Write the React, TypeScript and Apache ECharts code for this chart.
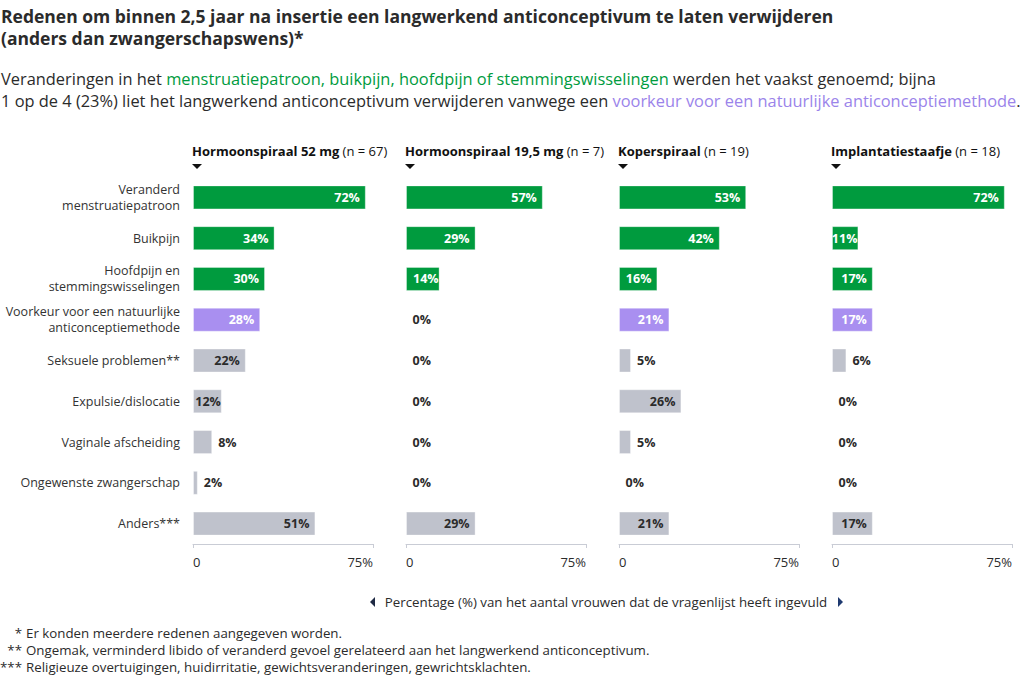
import React, { useEffect, useRef } from "react";
import * as echarts from "echarts";

const categories = [
  "Veranderd\nmenstruatiepatroon",
  "Buikpijn",
  "Hoofdpijn en\nstemmingswisselingen",
  "Voorkeur voor een natuurlijke\nanticonceptiemethode",
  "Seksuele problemen**",
  "Expulsie/dislocatie",
  "Vaginale afscheiding",
  "Ongewenste zwangerschap",
  "Anders***",
];
const categoryGroup = ["green", "green", "green", "purple", "gray", "gray", "gray", "gray", "gray"];

const panelTitles = ["Hormoonspiraal 52 mg", "Hormoonspiraal 19,5 mg", "Koperspiraal", "Implantatiestaafje"];
const panelN = ["(n = 67)", "(n = 7)", "(n = 19)", "(n = 18)"];

const hormoon52 = [72, 34, 30, 28, 22, 12, 8, 2, 51];
const hormoon195 = [57, 29, 14, 0, 0, 0, 0, 0, 29];
const koper = [53, 42, 16, 21, 5, 26, 5, 0, 21];
const implantaat = [72, 11, 17, 17, 6, 0, 0, 0, 17];
const panelValues = [hormoon52, hormoon195, koper, implantaat];

const axisMax = 75;

const COLORS: Record<string, string> = { green: "#009b3e", purple: "#a98ff0", gray: "#bfc2cc" };
const FONT = "'Open Sans', Roboto, sans-serif";
const TEXT = "#2b2b2b";

export default function App() {
  const ref = useRef<HTMLDivElement>(null);
  useEffect(() => {
    if (!ref.current) return;
    const chart = echarts.init(ref.current, undefined, { renderer: "svg" });
    const panelLeft = [193, 406, 619, 832];
    const panelWidth = 180;
    const gridTop = 177;
    const gridHeight = 367;

    const grids = panelLeft.map((l) => ({ left: l, top: gridTop, width: panelWidth, height: gridHeight, containLabel: false }));
    const xAxes = panelLeft.map((_, i) => ({
      type: "value",
      gridIndex: i,
      min: 0,
      max: axisMax,
      interval: axisMax,
      position: "bottom",
      splitLine: { show: false },
      axisLine: { show: true, lineStyle: { color: "#c9ccd5", width: 1 } },
      axisTick: { show: true, length: 4, lineStyle: { color: "#c9ccd5" } },
      axisLabel: {
        margin: 11,
        color: TEXT,
        fontFamily: FONT,
        fontSize: 13,
        alignMinLabel: "left",
        alignMaxLabel: "right",
        formatter: (v: number) => (v === axisMax ? axisMax + "%" : String(v)),
      },
    }));
    const yAxes = panelLeft.map((_, i) => ({
      type: "category",
      gridIndex: i,
      inverse: true,
      data: categories,
      axisLine: { show: false },
      axisTick: { show: false },
      axisLabel: {
        show: i === 0,
        margin: 13,
        color: "#333",
        fontFamily: FONT,
        fontSize: 12.5,
        lineHeight: 16,
        align: "right",
      },
    }));
    const series = panelValues.map((vals, i) => ({
      type: "bar",
      xAxisIndex: i,
      yAxisIndex: i,
      barWidth: 24,
      data: vals.map((v, k) => {
        const g = categoryGroup[k];
        const inside = v >= 10;
        return {
          value: v,
          itemStyle: { color: COLORS[g], borderColor: "rgba(255,255,255,0.35)", borderWidth: 1 },
          label: {
            show: true,
            position: inside ? "insideRight" : "right",
            distance: inside ? (v < 15 ? 1 : 6) : 6,
            overflow: "none",
            color: inside && g !== "gray" ? "#ffffff" : TEXT,
            fontWeight: "bold",
            fontFamily: FONT,
            fontSize: 12.5,
            formatter: "{c}%",
          },
        };
      }),
    }));

    const graphic: any[] = [
      {
        type: "text",
        left: 1,
        top: 5,
        style: {
          text: "Redenen om binnen 2,5 jaar na insertie een langwerkend anticonceptivum te laten verwijderen\n(anders dan zwangerschapswens)*",
          font: `bold 17.5px ${FONT}`,
          fill: TEXT,
          lineHeight: 22,
        },
      },
      {
        type: "text",
        left: 1,
        top: 67,
        style: {
          text:
            "Veranderingen in het {g|menstruatiepatroon, buikpijn, hoofdpijn of stemmingswisselingen} werden het vaakst genoemd; bijna\n1 op de 4 (23%) liet het langwerkend anticonceptivum verwijderen vanwege een {p|voorkeur voor een natuurlijke anticonceptiemethode}.",
          font: `16.4px ${FONT}`,
          fill: TEXT,
          lineHeight: 22,
          rich: {
            g: { fill: "#009b3e", font: `16.4px ${FONT}`, lineHeight: 22 },
            p: { fill: "#9b84ea", font: `16.4px ${FONT}`, lineHeight: 22 },
          },
        },
      },
    ];
    panelLeft.forEach((l, i) => {
      graphic.push({
        type: "text",
        x: l - 1,
        y: 144,
        style: {
          text: `{b|${panelTitles[i]}} {n|${panelN[i]}}`,
          fill: "#111",
          rich: {
            b: { font: `bold 13px ${FONT}`, fill: "#111" },
            n: { font: `13px ${FONT}`, fill: "#111" },
          },
        },
      });
      graphic.push({
        type: "polygon",
        shape: { points: [[l - 1, 164], [l + 9, 164], [l + 4, 169]] },
        style: { fill: "#111" },
      });
    });
    graphic.push(
      {
        type: "text",
        x: 606,
        y: 602,
        style: {
          text: "Percentage (%) van het aantal vrouwen dat de vragenlijst heeft ingevuld",
          font: `13.3px ${FONT}`,
          fill: TEXT,
          align: "center",
          verticalAlign: "middle",
        },
      },
      { type: "polygon", shape: { points: [[375, 597], [375, 607], [370, 602]] }, style: { fill: "#1f2a44" } },
      { type: "polygon", shape: { points: [[838, 597], [838, 607], [843, 602]] }, style: { fill: "#1f3a70" } }
    );
    const notes = [
      ["*", "Er konden meerdere redenen aangegeven worden."],
      ["**", "Ongemak, verminderd libido of veranderd gevoel gerelateerd aan het langwerkend anticonceptivum."],
      ["***", "Religieuze overtuigingen, huidirritatie, gewichtsveranderingen, gewrichtsklachten."],
    ];
    notes.forEach((n, i) => {
      const y = 633 + i * 17;
      graphic.push(
        { type: "text", x: 22, y, style: { text: n[0], font: `13.3px ${FONT}`, fill: TEXT, align: "right", verticalAlign: "middle" } },
        { type: "text", x: 26, y, style: { text: n[1], font: `13.3px ${FONT}`, fill: TEXT, align: "left", verticalAlign: "middle" } }
      );
    });

    chart.setOption({
      animation: false,
      backgroundColor: "#ffffff",
      textStyle: { fontFamily: FONT },
      grid: grids,
      xAxis: xAxes,
      yAxis: yAxes,
      series,
      graphic,
    } as any);
    return () => chart.dispose();
  }, []);
  return <div ref={ref} style={{ position: "fixed", left: 0, top: 0, width: 1024, height: 691 }} />;
}
